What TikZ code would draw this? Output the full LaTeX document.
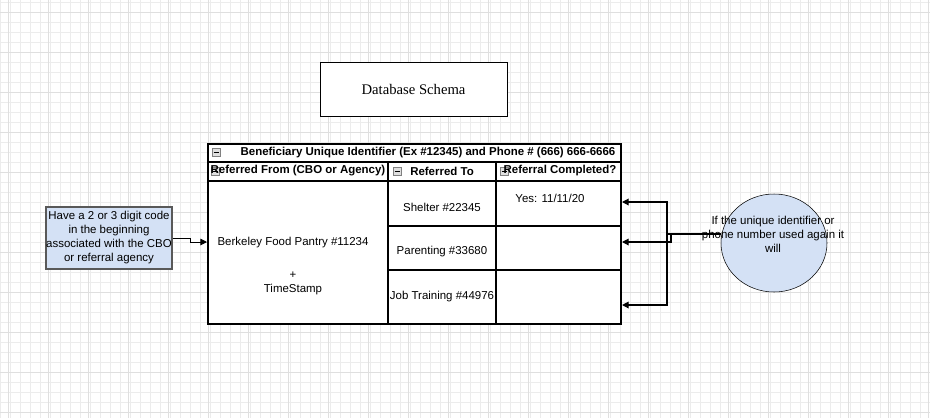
\documentclass[tikz,border=0pt]{standalone}
\usepackage{fontspec}
\setmainfont{Liberation Sans}
\newfontfamily\seriff{Liberation Serif}
\usetikzlibrary{arrows.meta,shapes.geometric}
\definecolor{fillb}{HTML}{D4E1F5}
\tikzset{
 txt/.style={font=\fontsize{8.6}{10.5}\selectfont, align=center, inner sep=0pt},
 hdr/.style={font=\bfseries\fontsize{8.6}{10}\selectfont, inner sep=0pt},
 conn/.style={draw=black, line width=0.9pt, -{Triangle[length=5pt,width=5pt]}},
 minus/.style={draw=gray, fill=gray!25, minimum size=6pt, inner sep=0pt, line width=0.4pt}
}
\begin{document}
\begin{tikzpicture}[x=0.75pt,y=-0.75pt]
\fill[white] (0,0) rectangle (930,418);
\useasboundingbox (0,0) rectangle (930,418);
\foreach \x in {0,10,...,930} \draw[gray!15,line width=0.4pt] (\x,0) -- (\x,418);
\foreach \y in {2,12,...,418} \draw[gray!15,line width=0.4pt] (0,\y) -- (930,\y);
\foreach \x in {0,40,...,920} \draw[gray!25,line width=0.4pt] (\x+8,0) -- (\x+8,418);
\foreach \y in {0,40,...,400} \draw[gray!25,line width=0.4pt] (0,\y+12) -- (930,\y+12);
% title
\node[draw=black, fill=white, minimum width=187*0.75pt, minimum height=54*0.75pt, font=\seriff\fontsize{11}{13}\selectfont] (title) at (413.5,89) {Database Schema};
% table
\fill[white] (208,144) rectangle (621,324);
\draw[line width=1pt] (208,144) rectangle (621,324);
\draw[line width=1pt] (208,162) -- (621,162);
\draw[line width=1pt] (208,181) -- (621,181);
\draw[line width=1pt] (388,162) -- (388,324);
\draw[line width=1pt] (496,162) -- (496,324);
\draw[line width=0.8pt] (388,226) -- (621,226);
\draw[line width=0.8pt] (388,270) -- (621,270);
\node[minus] (m1) at (216,152) {};
\draw (213.5,152) -- (218.5,152);
\node[hdr] (h) at (428,153) {Beneficiary Unique Identifier (Ex \#12345) and Phone \# (666) 666-6666};
\node[minus] (m2) at (215,171) {}; \draw (212.5,171)--(217.5,171);
\node[hdr] (c1) at (298,171) {Referred From (CBO or Agency)};
\node[minus] (m3) at (397,171) {}; \draw (394.5,171)--(399.5,171);
\node[hdr] (c2) at (442,171) {Referred To};
\node[minus] (m4) at (504,171) {}; \draw (501.5,171)--(506.5,171);
\node[hdr] (c3) at (560,171) {Referral Completed?};
\node[txt] (bf) at (293,243) {Berkeley Food Pantry \#11234};
\node[txt] (ts) at (293,283) {+\\TimeStamp};
\node[txt] (r1) at (442,207) {Shelter \#22345};
\node[txt] (r2) at (442,252) {Parenting \#33680};
\node[txt] (r3) at (442,297) {Job Training \#44976};
\node[txt] (y1) at (550,198) {Yes: 11/11/20};
\coordinate (t1) at (622,202);
\coordinate (t2) at (622,242);
\coordinate (t3) at (622,305);
\coordinate (tl) at (207,242);
% left box
\node[draw=gray!70!black, line width=1.2pt, fill=fillb, minimum width=126*0.75pt, minimum height=62*0.75pt, txt] (lb) at (109,238) {Have a 2 or 3 digit code\\in the beginning\\associated with the CBO\\or referral agency};
\draw[conn, line width=0.7pt] (lb.east) -- (190,238) -- (190,242) -- (tl);
% ellipse
\node[draw=black, fill=fillb, ellipse, minimum width=106*0.75pt, minimum height=98*0.75pt, inner sep=0pt] (el) at (774,243) {};
\node[txt] (elt) at (773,234) {If the unique identifier or\\phone number used again it\\will};
\draw[line width=1.2pt] (el.west |- 0,234) -- (671,234);
\draw[conn] (671,234) -- (667,234) |- (t1);
\draw[conn] (667,234) |- (t3);
\draw[conn] (671,234) |- (t2);
\end{tikzpicture}
\end{document}
